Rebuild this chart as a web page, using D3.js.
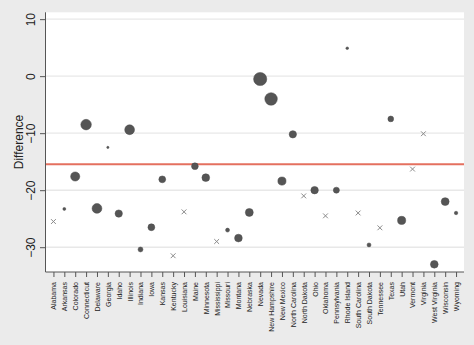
<!DOCTYPE html>
<html>
<head>
<meta charset="utf-8">
<script src="https://cdn.jsdelivr.net/npm/d3@7"></script>
<style>
  html, body { margin: 0; padding: 0; background: #ebebeb; }
  svg { display: block; font-family: "Liberation Sans", Arial, sans-serif; }
</style>
</head>
<body>
<svg id="chart" width="474" height="345"></svg>
<script>
const states = ["Alabama","Arkansas","Colorado","Connecticut","Delaware","Georgia","Idaho","Illinois","Indiana","Iowa","Kansas","Kentucky","Louisiana","Maine","Minnesota","Mississippi","Missouri","Montana","Nebraska","Nevada","New Hampshire","New Mexico","North Carolina","North Dakota","Ohio","Oklahoma","Pennsylvania","Rhode Island","South Carolina","South Dakota","Tennessee","Texas","Utah","Vermont","Virginia","West Virginia","Wisconsin","Wyoming"];
const differences = [-25.5,-23.3,-17.6,-8.5,-23.2,-12.5,-24.1,-9.4,-30.4,-26.5,-18.1,-31.5,-23.8,-15.8,-17.8,-29.0,-27.0,-28.4,-23.9,-0.5,-4.0,-18.4,-10.2,-21.0,-20.0,-24.5,-20.0,4.9,-24.0,-29.6,-26.6,-7.5,-25.3,-16.3,-10.1,-33.0,-22.0,-24.0];
// marker kind: "o" = weighted circle, "x" = cross
const markerKinds = ["x","o","o","o","o","o","o","o","o","o","o","x","x","o","o","x","o","o","o","o","o","o","o","x","o","x","o","o","x","o","x","o","o","x","x","o","o","o"];
const weights = [0,5,48,64,55,3,31,55,14,27,27,0,0,26,34,0,9,34,36,100,90,38,31,0,32,0,21,4,0,9,0,19,38,0,0,34,36,7];
const yTicks = [10,0,-10,-20,-30];
const referenceValue = -15.45;
const yTitle = "Difference";

const svg = d3.select("#chart");
const W = 474, H = 345;
const plot = {left: 45.5, right: 464, top: 12.3, bottom: 272};

svg.append("rect").attr("width", W).attr("height", H).attr("fill", "#ebebeb");
svg.append("rect")
  .attr("x", plot.left).attr("y", plot.top)
  .attr("width", plot.right - plot.left).attr("height", plot.bottom - plot.top)
  .attr("fill", "#ffffff");

const idx = states.map((s, i) => i + 1);
const x = d3.scaleLinear().domain([0.27, 38.73]).range([plot.left, plot.right]);
const y = d3.scaleLinear().domain([-34.35, 11.2]).range([plot.bottom, plot.top]);
const r = d3.scaleSqrt().domain([0, 100]).range([0, 6.6]);

// grid
svg.append("g").selectAll("line").data(yTicks).join("line")
  .attr("x1", plot.left).attr("x2", plot.right)
  .attr("y1", d => y(d)).attr("y2", d => y(d))
  .attr("stroke", "#e8e8e8").attr("stroke-width", 1.4);

// reference line
svg.append("line")
  .attr("x1", plot.left).attr("x2", plot.right)
  .attr("y1", y(referenceValue)).attr("y2", y(referenceValue))
  .attr("stroke", "#e4705f").attr("stroke-width", 2);

// y axis
const yAxis = d3.axisLeft(y).tickValues(yTicks).tickSize(5.5).tickPadding(3).tickFormat(d3.format("d"));
const gy = svg.append("g").attr("transform", `translate(${plot.left},0)`).call(yAxis);
gy.select(".domain").attr("d", `M0,${plot.top}V${plot.bottom}`).attr("stroke", "#555").attr("stroke-width", 1);
gy.selectAll(".tick line").attr("stroke", "#555");
gy.selectAll(".tick text")
  .attr("font-size", 12).attr("fill", "#222")
  .attr("text-anchor", "middle")
  .attr("x", 0).attr("dy", 0)
  .attr("transform", "translate(-10.5,0) rotate(-90)");

// x axis
const xAxis = d3.axisBottom(x).tickValues(idx).tickSize(5).tickPadding(4).tickFormat(i => states[i - 1]);
const gx = svg.append("g").attr("transform", `translate(0,${plot.bottom})`).call(xAxis);
gx.select(".domain").attr("d", `M${plot.left},0H${plot.right}`).attr("stroke", "#555").attr("stroke-width", 1);
gx.selectAll(".tick line").attr("stroke", "#555");
gx.selectAll(".tick text")
  .attr("font-size", 7).attr("fill", "#222")
  .attr("text-anchor", "end")
  .attr("x", 0).attr("y", 0).attr("dy", "0.35em")
  .attr("transform", "translate(0,10) rotate(-90)");

// y title
svg.append("text")
  .attr("transform", `translate(23,142) rotate(-90)`)
  .attr("text-anchor", "middle").attr("font-size", 12).attr("fill", "#222")
  .text(yTitle);

// markers
const data = states.map((s, i) => ({state: s, i: i + 1, v: differences[i], kind: markerKinds[i], w: weights[i]}));
svg.append("g").selectAll("circle").data(data.filter(d => d.kind === "o")).join("circle")
  .attr("cx", d => x(d.i)).attr("cy", d => y(d.v)).attr("r", d => r(d.w))
  .attr("fill", "#555555").attr("stroke", "#4a4a4a").attr("stroke-width", 0.5);

const cs = 2.4;
svg.append("g").selectAll("path").data(data.filter(d => d.kind === "x")).join("path")
  .attr("d", d => {
    const cx = x(d.i), cy = y(d.v);
    return `M${cx - cs},${cy - cs}L${cx + cs},${cy + cs}M${cx - cs},${cy + cs}L${cx + cs},${cy - cs}`;
  })
  .attr("stroke", "#8a8a8a").attr("stroke-width", 1).attr("fill", "none");
</script>
</body>
</html>
